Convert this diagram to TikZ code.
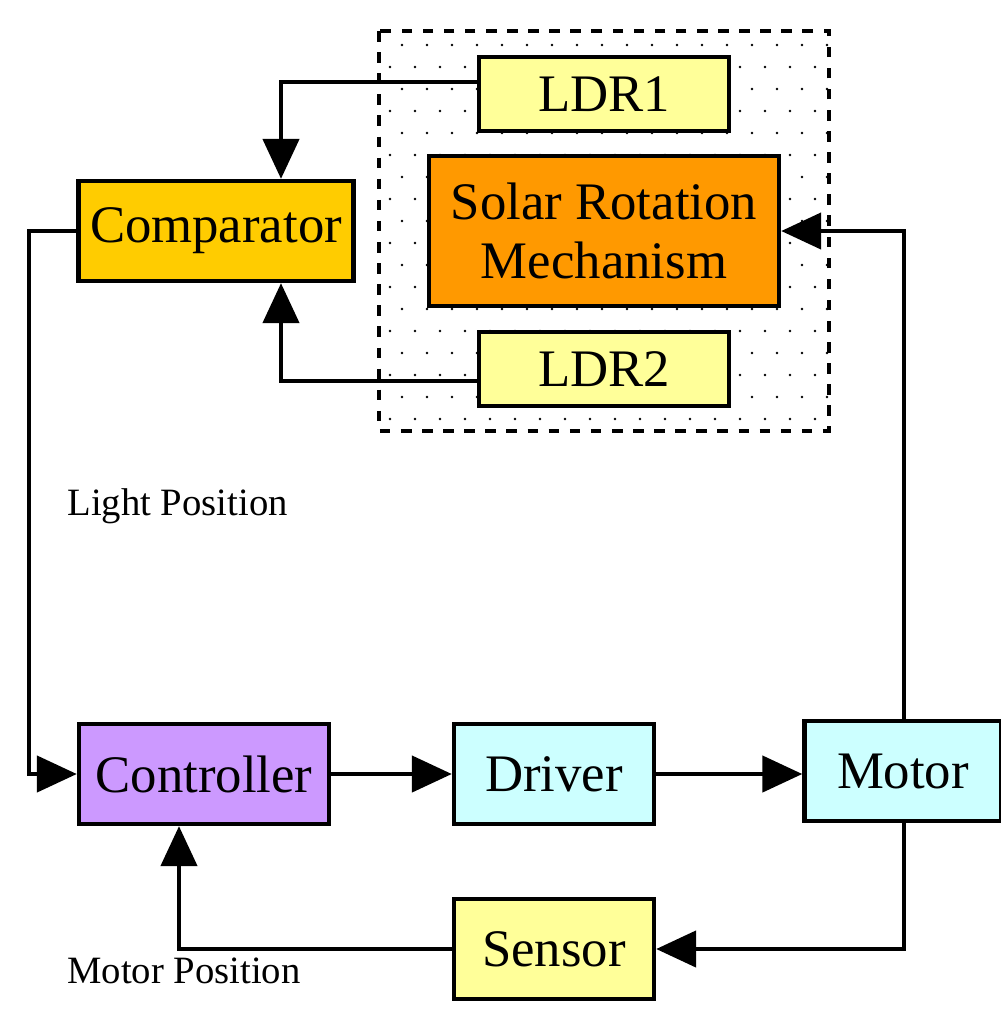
\documentclass[tikz,border=0pt]{standalone}
\usepackage{fontspec}
\setmainfont{Liberation Serif}
\usetikzlibrary{arrows.meta}
\definecolor{ldrfill}{HTML}{FFFF99}
\definecolor{solarfill}{HTML}{FF9900}
\definecolor{compfill}{HTML}{FFCC00}
\definecolor{ctrlfill}{HTML}{CC99FF}
\definecolor{cyanfill}{HTML}{CCFFFF}
\begin{document}
\begin{tikzpicture}[x=0.01cm,y=-0.01cm,
    blk/.style={draw,line width=1.2pt,inner sep=0pt,font=\fontsize{15}{17}\selectfont,align=center},
    conn/.style={line width=1.3pt},
    arr/.style={conn,-{Triangle[length=4mm,width=3.6mm]}},
    lbl/.style={anchor=west,font=\fontsize{11}{13}\selectfont}]
    \useasboundingbox (0,0) rectangle (1001,1026);
    % sensor group
    \draw[dashed,line width=1pt] (379,31) rectangle (829,431);
    \foreach \y [count=\i] in {45,67,...,425} {
      \pgfmathsetmacro{\xo}{mod(\i,2)*12}
      \foreach \x in {390,415,...,815}
        \fill (\x+\xo,\y) circle (1.4);
    }
    \node[blk,fill=ldrfill,minimum width=2.5cm,minimum height=0.74cm] (ldra) at (604,94) {LDR1};
    \node[blk,fill=solarfill,minimum width=3.5cm,minimum height=1.5cm] (solar) at (604,231) {Solar Rotation\\Mechanism};
    \node[blk,fill=ldrfill,minimum width=2.5cm,minimum height=0.74cm] (ldrb) at (604,369) {LDR2};
    \node[blk,fill=compfill,minimum width=2.75cm,minimum height=1cm] (comp) at (216,231) {Comparator};
    % lower loop
    \node[blk,fill=ctrlfill,minimum width=2.5cm,minimum height=1cm] (ctrl) at (204,774) {Controller};
    \node[blk,fill=cyanfill,minimum width=2cm,minimum height=1cm] (drv) at (554,774) {Driver};
    \node[blk,fill=cyanfill,minimum width=1.97cm,minimum height=1cm] (motor) at (903,771) {Motor};
    \node[blk,fill=ldrfill,minimum width=2cm,minimum height=1cm] (sens) at (554,949) {Sensor};
    \node[lbl] (lpos) at (55,506) {Light Position};
    \node[lbl] (mpos) at (55,971) {Motor Position};
    \coordinate (c1) at (281,82);
    \coordinate (c2) at (281,381);
    \coordinate (c3) at (29,231);
    \coordinate (c4) at (29,774);
    \coordinate (c5) at (904,231);
    \coordinate (c6) at (904,949);
    \coordinate (c7) at (179,949);
    \draw[arr] (ldra.west |- c1) -- (c1) -- (comp.north -| c1);
    \draw[arr] (ldrb.west |- c2) -- (c2) -- (comp.south -| c2);
    \draw[arr] (comp.west) -- (c3) -- (c4) -- (ctrl.west);
    \draw[arr] (ctrl.east) -- (drv.west);
    \draw[arr] (drv.east) -- (motor.west |- drv.east);
    \draw[arr] (motor.north -| c5) -- (c5) -- (solar.east);
    \draw[arr] (motor.south -| c6) -- (c6) -- (sens.east);
    \draw[arr] (sens.west) -- (c7) -- (ctrl.south -| c7);
\end{tikzpicture}
\end{document}
